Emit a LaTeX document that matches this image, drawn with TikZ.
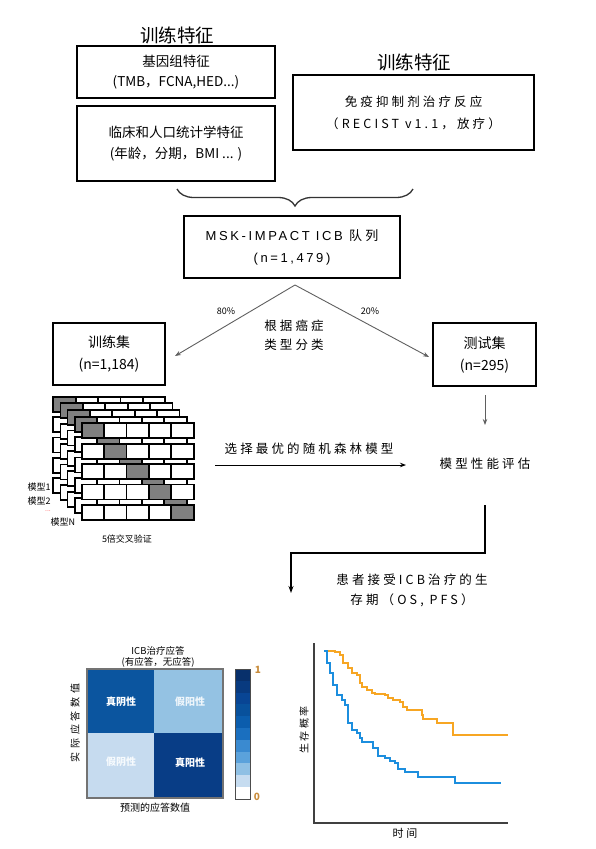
\documentclass[tikz,border=0pt]{standalone}
\usepackage{fontspec}
\setmainfont{Noto Sans CJK SC}
\newfontfamily\spaced[LetterSpace=25]{Noto Sans CJK SC}
\newfontfamily\wide[LetterSpace=38]{Noto Sans CJK SC}
\newfontfamily\latinsp[LetterSpace=20]{Liberation Sans}
\usetikzlibrary{arrows.meta,decorations.pathreplacing}
\definecolor{arrgray}{RGB}{95,95,95}
\definecolor{cvgray}{RGB}{128,128,128}
\definecolor{cmtl}{HTML}{0B559F}
\definecolor{cmtr}{HTML}{94C2E3}
\definecolor{cmbl}{HTML}{C6DBEF}
\definecolor{cmbr}{HTML}{083D86}
\definecolor{cb1}{HTML}{08306B}
\definecolor{cb2}{HTML}{083A7F}
\definecolor{cb3}{HTML}{084594}
\definecolor{cb4}{HTML}{08519C}
\definecolor{cb5}{HTML}{0B5DAD}
\definecolor{cb6}{HTML}{1A6FBF}
\definecolor{cb7}{HTML}{3A8AD0}
\definecolor{cb8}{HTML}{5BA2DB}
\definecolor{cb9}{HTML}{8FC0E4}
\definecolor{cb10}{HTML}{C6DCF0}
\definecolor{cb11}{HTML}{FFFFFF}
\definecolor{kmorange}{RGB}{247,166,35}
\definecolor{kmblue}{RGB}{28,142,222}
\definecolor{tickbrown}{RGB}{200,140,60}

\begin{document}
\begin{tikzpicture}[x=1pt,y=-1pt,
    box/.style={draw, line width=2.2pt, align=center, inner sep=0pt},
    arr/.style={-{Stealth[length=6pt,width=4.5pt]}, line width=0.9pt, draw=arrgray},
    flow/.style={-{Stealth[length=7pt,width=5pt]}, line width=1.5pt},
    cvcell/.style={draw=black, line width=1.8pt, fill=white},
    small/.style={font=\fontsize{9}{11}\selectfont},
    cmlabel/.style={font=\fontsize{10}{12}\selectfont\bfseries, text=white},
    kmline/.style={line width=2pt, line join=miter}]
  \useasboundingbox (0,0) rectangle (596,849);

  % features
  \node[font=\fontsize{18.5}{20}\selectfont] (ttl1) at (177,35) {训练特征};
  \node[box, minimum width=198pt, minimum height=52pt,
        font=\fontsize{13.5}{20}\selectfont] (geno) at (176,72)
        {基因组特征\\(TMB，FCNA,HED...)};
  \node[box, minimum width=198pt, minimum height=75pt,
        font=\fontsize{13.5}{21}\selectfont] (clin) at (176,143.5)
        {临床和人口统计学特征\\(年龄，分期，BMI ... )};
  \node[font=\fontsize{18.5}{20}\selectfont] (ttl2) at (414,62) {训练特征};
  \node[box, minimum width=241pt, minimum height=75pt,
        font=\fontsize{12.5}{22}\spaced] (resp) at (413.5,112.5)
        {免疫抑制剂治疗反应\\（RECIST v1.1，放疗）};

  \coordinate (bl) at (177,189);
  \coordinate (br) at (413,189);
  \draw[decorate, decoration={brace, mirror, amplitude=17pt},
        line width=1.3pt, draw=black!80] (bl) -- (br);

  \node[box, minimum width=216pt, minimum height=62pt,
        font=\fontsize{13}{22}\spaced] (msk) at (292,247)
        {{\latinsp MSK-IMPACT ICB} 队列\\{\latinsp (n=1,479)}};

  % split
  \coordinate (split) at (295,285);
  \coordinate (lend) at (175,356);
  \coordinate (rend) at (429,357);
  \draw[arr] (split) -- (lend);
  \draw[arr] (split) -- (rend);
  \node[small] (p80) at (226,311) {80\%};
  \node[small] (p20) at (370,311) {20\%};
  \node[font=\fontsize{12.5}{19}\spaced, align=center] (bytype) at (294,335)
        {根据癌症\\类型分类};

  \node[box, minimum width=112pt, minimum height=62pt,
        font=\fontsize{14}{22}\selectfont] (train) at (109,354)
        {训练集\\(n=1,184)};
  \node[box, minimum width=103pt, minimum height=63pt,
        font=\fontsize{14}{22}\selectfont] (test) at (484.5,354.5)
        {测试集\\(n=295)};

  % cross validation stack
  \foreach \l [evaluate=\l as \x using 53.3+\l*7.1,
               evaluate=\l as \y using 396.7+\l*6.65] in {0,...,4} {
    \foreach \r in {0,...,4} {
      \foreach \c in {0,...,4}
        \draw[cvcell] ({\x+\c*22.4},{\y+\r*20.4}) rectangle ++(22.4,15);
      \draw[cvcell, fill=cvgray] ({\x+\r*22.4},{\y+\r*20.4}) rectangle ++(22.4,15);
    }
  }
  \node[small] (m1) at (39,487) {模型1};
  \node[small] (m2) at (39,501) {模型2};
  \node[font=\fontsize{7}{8}\selectfont, text=red!70] (mdots) at (48,511) {...};
  \node[small, fill=white, inner sep=1pt] (mn) at (63,522) {模型N};
  \node[small] (cvlbl) at (127,539) {5倍交叉验证};

  % selection and evaluation
  \node[font=\fontsize{12.5}{15}\spaced] (sel) at (309,449) {选择最优的随机森林模型};
  \coordinate (s1) at (215,465);
  \coordinate (s2) at (406,465);
  \draw[arr, draw=black] (s1) -- (s2);
  \coordinate (t1) at (485,395);
  \coordinate (t2) at (485,425);
  \draw[arr] (t1) -- (t2);
  \node[font=\fontsize{12.5}{15}\spaced] (eval) at (485,464) {模型性能评估};

  \coordinate (f0) at (485,505);
  \coordinate (fk) at (485,553);
  \coordinate (f1) at (291,593);
  \draw[flow] (f0) -- (fk) -| (f1);
  \node[font=\fontsize{12.5}{20}\spaced, align=center] (surv) at (412,590)
        {患者接受ICB治疗的生\\存期（OS, PFS）};

  % confusion matrix
  \node[font=\fontsize{9.5}{11}\selectfont, align=center] (cmt) at (158,657)
        {ICB治疗应答\\(有应答，无应答)};
  \fill[cmtl] (87,669) rectangle (154,733);
  \fill[cmtr] (154,669) rectangle (223,733);
  \fill[cmbl] (87,733) rectangle (154,798);
  \fill[cmbr] (154,733) rectangle (223,798);
  \draw[line width=2pt, draw=black!55] (87,669) rectangle (223,798);
  \node[cmlabel] (tn) at (121,702) {真阴性};
  \node[cmlabel, text=white!85!cmtr] (fp) at (190,702) {假阳性};
  \node[cmlabel, text=white!85!cmbl] (fn) at (121,762) {假阴性};
  \node[cmlabel] (tp) at (190,763) {真阳性};
  \foreach \c [count=\i from 0] in {cb1,cb2,cb3,cb4,cb5,cb6,cb7,cb8,cb9,cb10,cb11}
    \fill[\c] (235,{669+\i*11.8}) rectangle ++(15,11.8);
  \draw[line width=0.8pt, draw=black!70] (235,669) rectangle (250,799);
  \node[font=\fontsize{10}{12}\selectfont\bfseries, text=tickbrown] (cb1lbl) at (258,670) {1};
  \node[font=\fontsize{10}{12}\selectfont\bfseries, text=tickbrown] (cb0lbl) at (257,797) {0};
  \node[font=\fontsize{10}{12}\selectfont] (pred) at (155,808) {预测的应答数值};
  \node[font=\fontsize{10}{12}\wide, rotate=90] (act) at (75,723) {实际应答数值};

  % survival curves
  \coordinate (ytop) at (314,643);
  \coordinate (orig) at (314,823);
  \coordinate (xend) at (508,823);
  \draw[line width=1.2pt, draw=black!75] (ytop) -- (orig) -- (xend);
  \draw[kmline, kmorange] (324,651) -| (335,652) -| (340,655) -| (343,663)
    -| (348,668) -| (352,673) -| (357,675) -| (360,683) -| (362,687)
    -| (367,690) -| (372,693) -| (375,694) -| (385,695) -| (388,698)
    -| (393,700) -| (400,702) -| (403,707) -| (407,710) -| (422,715)
    -| (423,719) -| (437,723) -| (453,735) -- (508,735);
  \draw[kmline, kmblue] (324,651) -| (327,663) -| (330,673) -| (333,685)
    -| (337,695) -| (342,700) -| (345,705) -| (348,723) -| (352,730)
    -| (357,733) -| (360,738) -| (362,742) -| (373,748) -| (378,756)
    -| (385,758) -| (390,761) -| (395,763) -| (398,769) -| (405,772)
    -| (418,777) -| (455,783) -- (501,783);
  \node[font=\fontsize{10}{12}\spaced, rotate=90] (surlbl) at (304,730) {生存概率};
  \node[font=\fontsize{11}{12}\spaced] (timelbl) at (405,833) {时间};
\end{tikzpicture}
\end{document}
